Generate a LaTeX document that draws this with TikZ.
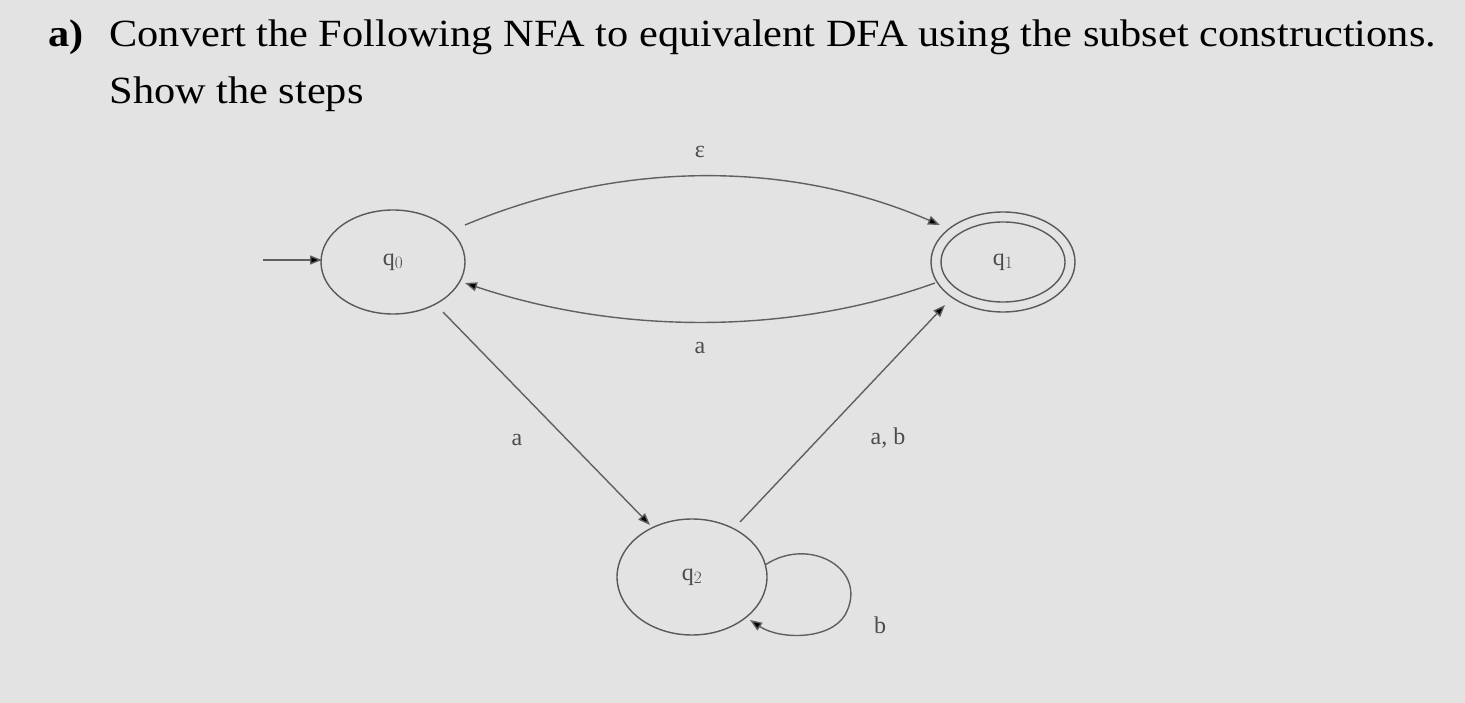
\documentclass[tikz,border=0pt]{standalone}
\usepackage{fontspec}
\setmainfont{Liberation Serif}
\newfontfamily\titlefont[FakeStretch=1.1]{Liberation Serif}
\usetikzlibrary{arrows.meta}
\begin{document}
\begin{tikzpicture}[x=1pt,y=-1pt,
  st/.style={draw=gray!70!black,line width=1.4pt},
  ed/.style={draw=gray!75!black,line width=1.4pt,-{Triangle[length=12pt,width=9pt,fill=black]}},
  lb/.style={text=gray!60!black,font=\fontsize{24}{26}\selectfont}]
\fill[gray!22] (0,0) rectangle (1465,703);
\useasboundingbox (0,0) rectangle (1465,703);
\node[anchor=base west,font=\titlefont\fontsize{38.5}{40}\selectfont\bfseries] (ta) at (45,47) {a)};
\node[anchor=base west,font=\titlefont\fontsize{38.5}{40}\selectfont] (t1) at (106,47) {Convert the Following NFA to equivalent DFA using the subset constructions.};
\node[anchor=base west,font=\titlefont\fontsize{38.5}{40}\selectfont] (t2) at (106,104) {Show the steps};
\draw[st] (393,262) ellipse [x radius=72,y radius=52];
\node[lb] (q0) at (393,262) {q$_0$};
\draw[st] (1003,262) ellipse [x radius=72,y radius=50];
\draw[st] (1003,262) ellipse [x radius=62,y radius=40];
\node[lb] (q1) at (1003,262) {q$_1$};
\draw[st] (692,577) ellipse [x radius=75,y radius=58];
\node[lb] (q2) at (692,577) {q$_2$};
\coordinate (s) at (263,260);
\coordinate (s2) at (322,260);
\draw[ed] (s) -- (s2);
\coordinate (a1) at (465,225); \coordinate (a2) at (940,225);
\draw[ed] (a1) .. controls (620,160) and (790,160) .. (a2);
\node[lb] (le) at (700,152) {ε};
\coordinate (b1) at (935,283); \coordinate (b2) at (465,283);
\draw[ed] (b1) .. controls (790,335) and (620,335) .. (b2);
\node[lb] (la) at (700,348) {a};
\coordinate (c1) at (443,312); \coordinate (c2) at (650,525);
\draw[ed] (c1) -- (c2);
\node[lb] (lc) at (517,440) {a};
\coordinate (d1) at (740,522); \coordinate (d2) at (945,305);
\draw[ed] (d1) -- (d2);
\node[lb] (ld) at (888,438) {a, b};
\coordinate (e1) at (765,565); \coordinate (e2) at (750,620);
\draw[ed] (e1) .. controls (810,535) and (870,570) .. (845,615) .. controls (830,640) and (780,640) .. (e2);
\node[lb] (lb2) at (880,625) {b};
\end{tikzpicture}
\end{document}
